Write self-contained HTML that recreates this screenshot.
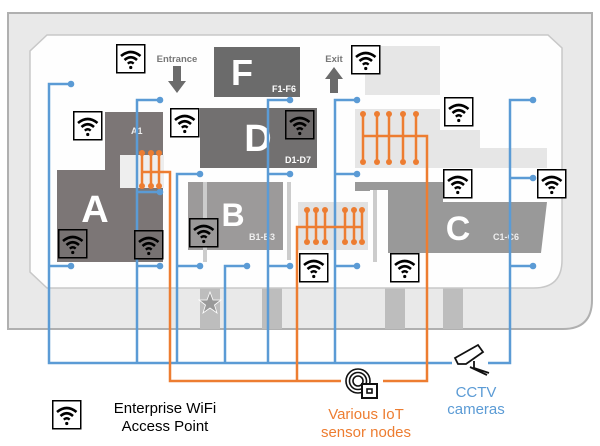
<!DOCTYPE html>
<html><head><meta charset="utf-8"><style>
html,body{margin:0;padding:0;background:#fff;}
svg{display:block;font-family:"Liberation Sans",sans-serif;}
</style></head><body>
<svg width="600" height="446" viewBox="0 0 600 446" xmlns="http://www.w3.org/2000/svg">
<defs>
<g id="wf">
<rect x="0.75" y="0.75" width="28" height="28" stroke="#000" stroke-width="1.5"/>
<path d="M5 12 Q14.75 4 24.5 12" fill="none" stroke="#000" stroke-width="2.6"/>
<path d="M8.5 16 Q14.75 10.5 21 16" fill="none" stroke="#000" stroke-width="2.6"/>
<path d="M11.8 19.6 Q14.75 17 17.7 19.6" fill="none" stroke="#000" stroke-width="2.4"/>
<circle cx="14.75" cy="23.5" r="1.6" fill="#000"/>
</g>
</defs>
<!-- outer frame -->
<path d="M8 13 H592 V300 Q592 329 563 329 H8 Z" fill="#e9e9e9" stroke="#b0b0b0" stroke-width="2"/>
<!-- parking columns -->
<rect x="200" y="288" width="20" height="41" fill="#bdbdbd"/>
<rect x="262" y="288" width="20" height="41" fill="#bdbdbd"/>
<rect x="385" y="288" width="20" height="41" fill="#bdbdbd"/>
<rect x="443" y="288" width="20" height="41" fill="#bdbdbd"/>
<path d="M210 292 l3 8 h8 l-6.5 5 l2.5 8 l-7 -5 l-7 5 l2.5 -8 l-6.5 -5 h8 Z" fill="#999" stroke="#fff" stroke-width="0.8"/>
<!-- inner white -->
<path d="M47 35 H548 L562 48 V260 Q562 288 534 288 H47 L30 272 V51 Z" fill="#fefefe" stroke="#c8c8c8" stroke-width="1.5"/>
<!-- light areas -->
<rect x="365" y="46" width="75" height="49" fill="#e6e6e6"/>
<path d="M355 109 H440 V130 H480 V148 H547 V168 H355 Z" fill="#e6e6e6"/>
<rect x="298" y="202" width="70" height="48" fill="#e2e2e2"/>
<!-- buildings -->
<rect x="214" y="47" width="86" height="50" fill="#6b6b6b"/>
<text x="242" y="85" font-size="36" font-weight="bold" fill="#fff" text-anchor="middle">F</text>
<text x="284" y="92" font-size="9" font-weight="bold" fill="#fff" text-anchor="middle">F1-F6</text>
<rect x="200" y="108" width="117" height="60" fill="#727070"/>
<text x="258" y="151" font-size="38" font-weight="bold" fill="#fff" text-anchor="middle">D</text>
<text x="298" y="163" font-size="9" font-weight="bold" fill="#fff" text-anchor="middle">D1-D7</text>
<path d="M105 112 H163 V262 H57 V170 H105 Z" fill="#7c7676"/>
<rect x="120" y="155" width="44" height="33" fill="#eee"/>
<text x="131" y="134" font-size="9" font-weight="bold" fill="#eee">A1</text>
<text x="95" y="222" font-size="38" font-weight="bold" fill="#fff" text-anchor="middle">A</text>
<rect x="188" y="182" width="95" height="68" fill="#9c9a9a"/>
<text x="233" y="226" font-size="32" font-weight="bold" fill="#fff" text-anchor="middle">B</text>
<text x="262" y="240" font-size="9" font-weight="bold" fill="#eee" text-anchor="middle">B1-B3</text>
<rect x="203" y="182" width="4" height="80" fill="#ccc"/>
<rect x="287" y="182" width="4" height="78" fill="#ccc"/>
<rect x="373" y="182" width="4" height="80" fill="#ccc"/>
<path d="M355 182 H443 V202 H547 L541 253 H388 V190 H355 Z" fill="#999"/>
<rect x="355" y="182" width="15" height="9" fill="#999"/>
<text x="458" y="240" font-size="34" font-weight="bold" fill="#fff" text-anchor="middle">C</text>
<text x="506" y="240" font-size="9" font-weight="bold" fill="#eee" text-anchor="middle">C1-C6</text>
<!-- arrows -->
<text x="177" y="62" font-size="9.5" font-weight="bold" fill="#777" text-anchor="middle">Entrance</text>
<path d="M173 66 H181 V81 H186 L177 93 L168 81 H173 Z" fill="#6b6b6b"/>
<text x="334" y="62" font-size="9.5" font-weight="bold" fill="#777" text-anchor="middle">Exit</text>
<path d="M330 93 H338 V79 H343 L334 67 L325 79 H330 Z" fill="#6b6b6b"/>
<!-- blue network -->
<g stroke="#5b9bd5" stroke-width="2.5" fill="none">
<path d="M71 84 H49 V363 H452"/>
<path d="M488 363 H510 V100 H533"/>
<path d="M49 266 H71"/>
<path d="M160 100 H137 V363"/>
<path d="M137 192 H160 M137 266 H160"/>
<path d="M200 174 H177 V363 M177 266 H200"/>
<path d="M247 266 H225 V363"/>
<path d="M290 100 H268 V363 M268 174 H290 M268 266 H290"/>
<path d="M357 100 H335 V363 M335 174 H357 M335 266 H357"/>
<path d="M510 178 H533 M510 266 H533"/>
</g>
<g fill="#5b9bd5">
<circle cx="71" cy="84" r="3.3"/><circle cx="71" cy="266" r="3.3"/>
<circle cx="160" cy="100" r="3.3"/><circle cx="160" cy="192" r="3.3"/><circle cx="160" cy="266" r="3.3"/>
<circle cx="200" cy="174" r="3.3"/><circle cx="200" cy="266" r="3.3"/>
<circle cx="247" cy="266" r="3.3"/>
<circle cx="290" cy="100" r="3.3"/><circle cx="290" cy="174" r="3.3"/><circle cx="290" cy="266" r="3.3"/>
<circle cx="357" cy="100" r="3.3"/><circle cx="357" cy="174" r="3.3"/><circle cx="357" cy="266" r="3.3"/>
<circle cx="533" cy="100" r="3.3"/><circle cx="533" cy="178" r="3.3"/><circle cx="533" cy="266" r="3.3"/>
</g>
<!-- orange network -->
<g stroke="#ed7d31" stroke-width="2.5" fill="none">
<path d="M143 172 H170 V381 H341"/>
<path d="M142 153 V186 M151 153 V186 M159 153 V186"/>
<path d="M383 381 H427 V136 H363"/>
<path d="M363 114 V162 M377 114 V162 M389 114 V162 M403 114 V162 M416 114 V162"/>
<path d="M297 381 V227 H363"/>
<path d="M307 210 V242 M316 210 V242 M325 210 V242 M345 210 V242 M354 210 V242 M362 210 V242"/>
</g>
<g fill="#ed7d31">
<circle cx="142" cy="153" r="3"/><circle cx="151" cy="153" r="3"/><circle cx="159" cy="153" r="3"/>
<circle cx="142" cy="186" r="3"/><circle cx="151" cy="186" r="3"/><circle cx="159" cy="186" r="3"/>
<circle cx="363" cy="114" r="3"/><circle cx="377" cy="114" r="3"/><circle cx="389" cy="114" r="3"/><circle cx="403" cy="114" r="3"/><circle cx="416" cy="114" r="3"/>
<circle cx="363" cy="162" r="3"/><circle cx="377" cy="162" r="3"/><circle cx="389" cy="162" r="3"/><circle cx="403" cy="162" r="3"/><circle cx="416" cy="162" r="3"/>
<circle cx="307" cy="210" r="3"/><circle cx="316" cy="210" r="3"/><circle cx="325" cy="210" r="3"/><circle cx="345" cy="210" r="3"/><circle cx="354" cy="210" r="3"/><circle cx="362" cy="210" r="3"/>
<circle cx="307" cy="242" r="3"/><circle cx="316" cy="242" r="3"/><circle cx="325" cy="242" r="3"/><circle cx="345" cy="242" r="3"/><circle cx="354" cy="242" r="3"/><circle cx="362" cy="242" r="3"/>
</g>
<!-- wifi icons -->
<use href="#wf" x="116" y="44" fill="#fff"/>
<use href="#wf" x="73" y="111" fill="#fff"/>
<use href="#wf" x="170" y="108" fill="#fff"/>
<use href="#wf" x="285" y="110" fill="#6e6a6a"/>
<use href="#wf" x="58" y="229" fill="#777272"/>
<use href="#wf" x="134" y="230" fill="#777272"/>
<use href="#wf" x="189" y="218" fill="#9a9898"/>
<use href="#wf" x="351" y="45" fill="#fff"/>
<use href="#wf" x="444" y="97" fill="#fff"/>
<use href="#wf" x="443" y="169" fill="#fff"/>
<use href="#wf" x="537" y="169" fill="#fff"/>
<use href="#wf" x="299" y="253" fill="#fff"/>
<use href="#wf" x="390" y="253" fill="#fff"/>
<use href="#wf" x="52" y="400" fill="#fff"/>
<!-- sensor icon -->
<g fill="none" stroke="#111" stroke-width="1.6">
<circle cx="358" cy="381" r="12"/><circle cx="358" cy="381" r="8.5"/><circle cx="358" cy="381" r="5"/>
<rect x="362" y="384" width="15" height="14" fill="#fff" stroke-width="2"/>
<rect x="367" y="389" width="5" height="4"/>
</g>
<!-- camera -->
<g fill="#fff" stroke="#111" stroke-width="1.8">
<path d="M470 367 L487 375 M474 361 L474 368 L489 373"/>
<path d="M455 358 L478 345 L483 352 L466 364 L458 364 Z"/>
</g>
<!-- legend text -->
<text x="165" y="413" font-size="15" fill="#000" text-anchor="middle">Enterprise WiFi</text>
<text x="165" y="431" font-size="15" fill="#000" text-anchor="middle">Access Point</text>
<text x="366" y="419" font-size="15" fill="#ed7d31" text-anchor="middle">Various IoT</text>
<text x="366" y="437" font-size="15" fill="#ed7d31" text-anchor="middle">sensor nodes</text>
<text x="476" y="397" font-size="15" fill="#5b9bd5" text-anchor="middle">CCTV</text>
<text x="476" y="414" font-size="15" fill="#5b9bd5" text-anchor="middle">cameras</text>
</svg>
</body></html>
